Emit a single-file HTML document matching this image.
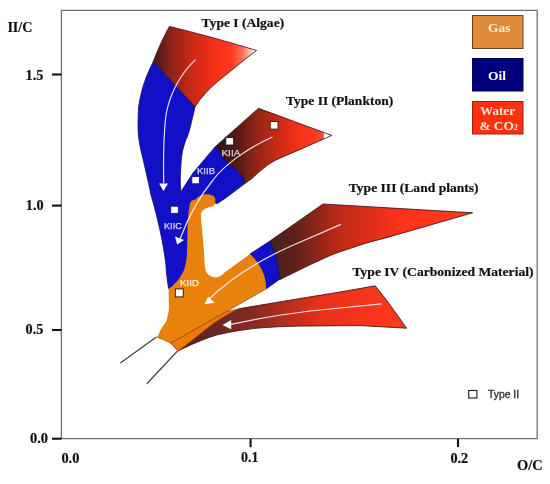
<!DOCTYPE html>
<html>
<head>
<meta charset="utf-8">
<title>Van Krevelen diagram</title>
<style>
html,body{margin:0;padding:0;background:#fff;}
body{width:550px;height:484px;overflow:hidden;}
svg{display:block;}
.ser{font-family:"Liberation Serif","DejaVu Serif",serif;font-weight:bold;fill:#111;stroke:#111;stroke-width:0.2px;}
.san{font-family:"Liberation Sans","DejaVu Sans",sans-serif;}
</style>
</head>
<body>
<svg width="550" height="484" viewBox="0 0 550 484">
<defs>
  <linearGradient id="g1" gradientUnits="userSpaceOnUse" x1="153" y1="50" x2="257" y2="50">
    <stop offset="0" stop-color="#401818"/><stop offset="0.15" stop-color="#84221a"/><stop offset="0.36" stop-color="#c62814"/><stop offset="0.6" stop-color="#f83016"/><stop offset="0.75" stop-color="#ff3820"/><stop offset="0.855" stop-color="#ff6a52"/><stop offset="0.92" stop-color="#ffb0a0"/><stop offset="0.97" stop-color="#ffe8e0"/><stop offset="1" stop-color="#ffffff"/>
  </linearGradient>
  <linearGradient id="g2" gradientUnits="userSpaceOnUse" x1="216" y1="150" x2="332" y2="150">
    <stop offset="0" stop-color="#2c1412"/><stop offset="0.18" stop-color="#521a14"/><stop offset="0.36" stop-color="#962416"/><stop offset="0.52" stop-color="#c82a16"/><stop offset="0.7" stop-color="#f43018"/><stop offset="0.85" stop-color="#ff3a20"/><stop offset="0.925" stop-color="#ff4a30"/><stop offset="0.935" stop-color="#ffffff"/><stop offset="1" stop-color="#ffffff"/>
  </linearGradient>
  <linearGradient id="g3" gradientUnits="userSpaceOnUse" x1="270" y1="250" x2="472" y2="250">
    <stop offset="0" stop-color="#46221e"/><stop offset="0.12" stop-color="#5e2018"/><stop offset="0.35" stop-color="#c02a18"/><stop offset="0.65" stop-color="#ff3218"/><stop offset="1" stop-color="#ff3a1c"/>
  </linearGradient>
  <linearGradient id="g4" gradientUnits="userSpaceOnUse" x1="190" y1="320" x2="407" y2="320">
    <stop offset="0" stop-color="#5a2222"/><stop offset="0.3" stop-color="#8a2a20"/><stop offset="0.6" stop-color="#e83018"/><stop offset="1" stop-color="#ff3a1c"/>
  </linearGradient>
</defs>
<rect width="550" height="484" fill="#fff"/>
<!-- frame -->
<rect x="61.4" y="10.4" width="475.8" height="428.2" fill="none" stroke="#707070" stroke-width="1.3"/>

<!-- Type IV -->
<path d="M178,351 C184,346.5 190,341.5 196.4,336.4 C212,323 228,312 240,308.6 C250,306.8 272,303.2 300,298.5 L340,292 L360,288.5 L375.2,285.8 C386,299 396,313 406.6,328.2 L360,325.6 L340,325.7 L310,326 C285,326 262,327.5 250,329 C235,331 222,333.5 214.5,335.7 C205,338.5 190,345 178,351 Z" fill="url(#g4)" stroke="#2a0c0c" stroke-width="0.8"/>
<!-- Type III red -->
<path d="M270,241 L323,204 L472.6,212.8 L420,228 L390,236.7 C383,238.6 377,240.2 370,242 C363,244 357,246 350,248.5 C343,250.8 336,253.2 330,255.6 L310,264.7 L280,279.5 C278,266 276,254 270,241 Z" fill="url(#g3)" stroke="#2a0c0c" stroke-width="0.8"/>
<!-- Type II dark/red -->
<path d="M215.5,146.4 L258.5,108.3 L331.8,135.4 L299.1,149.9 L285,155.9 C281,157.6 277.5,159.2 274,161 C270,163.2 266.5,165.8 263.2,168.5 C259,171.8 255.5,175 252.3,178.2 L243.8,184.3 C244.5,181 244.4,178.6 243,177 C241,175 239,172.5 237.3,171 C233,167 229,164 226.4,161.8 C222,157 218,151 215.5,146.4 Z" fill="url(#g2)" stroke="#2a0c0c" stroke-width="0.8"/>
<!-- Type I red -->
<path d="M153.2,61.8 C158,49 163,38 169.4,26.4 C198,33.5 228,41.5 256.6,50.5 C244,59.5 231,71 217.3,81.8 C209,89 201,97 195,107 Z" fill="url(#g1)" stroke="#2a0c0c" stroke-width="0.8"/>

<!-- Blue: type I + type II -->
<path d="M153.2,61.8 L195,107 C193,116 191,124 189.5,130 C188,135 187,138 185.8,140 C184.5,144 183.5,147 182.5,151 C181.5,156 181,162 180.8,167.4 C180.4,173 180.2,179 180.3,183.8 L180.9,191.8 L193,173 L215.5,146.4 C218,151 222,157 226.4,161.8 C229,164 233,167 237.3,171 C239,172.5 241,175 243,177 C244.4,178.6 244.5,181 243.8,184.3 L236,190.3 L225,198.5 L217.3,203.6 L212,202 L196,210 L190,260 C186,270 180,280 170,288 L168.6,288.8 C167.5,282 167,277 166.4,272 C165.8,257 160.6,228 151,195 C148,180 144,163 141,150.7 C139,142 138,134 138,127.5 C138,120 138.2,113 138.6,107 C140,97 142.5,88 143.8,84 C147,75 150,68 153.2,61.8 Z" fill="#1210c6" stroke="#0c0c60" stroke-width="0.8"/>
<!-- Blue band type III -->
<path d="M250,254 L270,241 C276,254 278,266 280,279 L266,289 C266,276 262,266 250,254 Z" fill="#1210c6" stroke="#0c0c60" stroke-width="0.8"/>

<!-- thin orange band -->
<path d="M170.8,343 L227.5,311.2 L240.6,308.7 C228,312.5 212,324 196.4,336.9 C190,342 184,346.5 178.2,351 Z" fill="#f07a06" stroke="#7a3a08" stroke-width="0.6"/>
<!-- Orange gas -->
<path d="M190,204 C190.5,200.5 193,200 195.5,199.5 C198.5,196 202,194.3 206.4,194.3 C211,194.3 215.5,196 215.3,200 C215.4,203.6 214.6,205.4 213.2,206 C210,207 207,207.6 205,208.8 C202.4,210.4 201.4,212 200.9,214 L201.2,222 L202.8,237 L204.4,257.5 C204.6,263 204.6,268 206,271.5 C208,275.5 213,278 217.5,277.3 C220.5,276.5 222,275 224,273 L250,254 C262,266 266,276 266,289 L170.8,343 L157,337 C159,334 160,332 160,331 C163,326 165,323 166.4,321 C168,315 169,311 169,308 C169,300 168.4,295 168.8,288.5 C172,287 176,283 178.9,278.9 C182,274 184,271 184.6,268 C186,264 186.6,259 187,253 C187.4,245 187.3,232 187.8,222 C188.2,214 189,208 190,204 Z" fill="#e8820c"/>
<path d="M170.8,343 L266,289" stroke="#7a3a08" stroke-width="0.6" fill="none"/>
<path d="M157,337 L170.8,343 L178.2,351" stroke="#7a3a08" stroke-width="0.6" fill="none"/>

<!-- thin lines -->
<path d="M156.4,337 L120.4,363 M177.5,351 L146.6,384" stroke="#3a3a3a" stroke-width="1.1" fill="none"/>

<!-- arrows -->
<g fill="none" stroke="#f4eefc" stroke-width="1.2" stroke-opacity="0.92">
<path d="M195.6,59.6 C182,72 170,92 166,115 C163.5,135 163.3,160 163.7,183"/>
<path d="M272.5,137 C250,147 226,163 213,180 C199,197 188,218 180,239"/>
<path d="M341,224.4 L290,246.5 C260,260 230,279 208,300"/>
<path d="M381.6,303.8 L340,308 L310,311 C290,313.5 262,317.5 231,324.3"/>
</g>
<g fill="#fff">
<path d="M159.1,183.6 L168,183.6 L163.5,190.9 Z"/>
<path d="M175,236.5 L184,240 L177.2,244.6 Z"/>
<path d="M208.2,296.8 L214.6,302.7 L204.4,304.3 Z"/>
<path d="M231.2,320 L231.2,329.2 L222.5,325 Z"/>
</g>

<!-- squares -->
<g fill="#fff" stroke-width="0.9">
<rect x="270.2" y="121.5" width="7.8" height="7.6" stroke="#2a1616"/>
<rect x="225.8" y="137.6" width="7.8" height="7.4" stroke="#1c1220"/>
<rect x="191.8" y="176.6" width="7.6" height="7.2" stroke="#0e0e78"/>
<rect x="170.7" y="206.2" width="7.6" height="7.2" stroke="#0e0e78"/>
<rect x="175.3" y="288.9" width="8" height="8" stroke="#3a2410" stroke-width="1"/>
<rect x="468.7" y="390.5" width="8.2" height="7.5" stroke="#222" stroke-width="1.15"/>
</g>

<!-- K labels -->
<g class="san" font-size="9.6" fill="#dcd8f2" stroke="#dcd8f2" stroke-width="0.25">
<text x="221.4" y="155.8" textLength="19" lengthAdjust="spacingAndGlyphs">KIIA</text>
<text x="197" y="173.8" textLength="18" lengthAdjust="spacingAndGlyphs">KIIB</text>
<text x="164" y="229.2" textLength="17.8" lengthAdjust="spacingAndGlyphs">KIIC</text>
<text x="180" y="286.2" textLength="19" lengthAdjust="spacingAndGlyphs" fill="#fff0d8" stroke="#fff0d8">KIID</text>
</g>
<text class="san" x="488" y="398.2" font-size="10.2" fill="#333" stroke="#333" stroke-width="0.35" textLength="31" lengthAdjust="spacingAndGlyphs">Type II</text>

<!-- legend -->
<rect x="472.5" y="15.5" width="50.5" height="33" fill="#e08a3c" stroke="#6a4420" stroke-width="1"/>
<rect x="472.5" y="58.5" width="50.5" height="32.5" fill="#00007c" stroke="#000050" stroke-width="1"/>
<rect x="472.5" y="101.5" width="50.5" height="32.5" fill="#ff3010" stroke="#a02010" stroke-width="1"/>
<g class="ser" font-size="13.5" style="fill:#fff;stroke:none">
<text x="488" y="32" style="fill:#fff0d0" textLength="22.4" lengthAdjust="spacingAndGlyphs">Gas</text>
<text x="488" y="79.6" textLength="18" lengthAdjust="spacingAndGlyphs">Oil</text>
<text x="480" y="115.2" style="fill:#ffe8d8" textLength="35" lengthAdjust="spacingAndGlyphs">Water</text>
<text x="479.4" y="129.8" style="fill:#ffe8d8" textLength="38.6" lengthAdjust="spacingAndGlyphs">&amp; CO<tspan font-size="8.5" dy="0.6">2</tspan></text>
</g>

<!-- axis ticks -->
<g stroke="#111" stroke-width="2.1" fill="none">
<path d="M52,74.5 H61.5"/>
<path d="M52,205.6 H61.5"/>
<path d="M52,330 H61.5"/>
<path d="M52,438.7 H61.5"/>
<path d="M250.6,438.6 V447.2"/>
<path d="M458,438.6 V447"/>
</g>
<g class="ser" font-size="13.6">
<text x="7.4" y="32" textLength="25" lengthAdjust="spacingAndGlyphs">II/C</text>
<text x="25.6" y="79.7" textLength="17.8" lengthAdjust="spacingAndGlyphs">1.5</text>
<text x="25.8" y="210" textLength="17.8" lengthAdjust="spacingAndGlyphs">1.0</text>
<text x="25.6" y="333.9" textLength="17.8" lengthAdjust="spacingAndGlyphs">0.5</text>
<text x="30" y="443.4" textLength="18" lengthAdjust="spacingAndGlyphs">0.0</text>
<text x="61.4" y="462.5" textLength="18" lengthAdjust="spacingAndGlyphs">0.0</text>
<text x="241" y="462.3" textLength="17.4" lengthAdjust="spacingAndGlyphs">0.1</text>
<text x="450.4" y="462.5" textLength="17.8" lengthAdjust="spacingAndGlyphs">0.2</text>
<text x="517" y="470" textLength="25.6" lengthAdjust="spacingAndGlyphs">O/C</text>
<text x="201.6" y="26.6" font-size="13.2" textLength="82.6" lengthAdjust="spacingAndGlyphs">Type I (Algae)</text>
<text x="286" y="104.8" font-size="13.2" textLength="107.2" lengthAdjust="spacingAndGlyphs">Type II (Plankton)</text>
<text x="348.8" y="192" font-size="13.2" textLength="129.8" lengthAdjust="spacingAndGlyphs">Type III (Land plants)</text>
<text x="352.5" y="276.3" font-size="13.2" textLength="181" lengthAdjust="spacingAndGlyphs">Type IV (Carbonized Material)</text>
</g>
</svg>
</body>
</html>
